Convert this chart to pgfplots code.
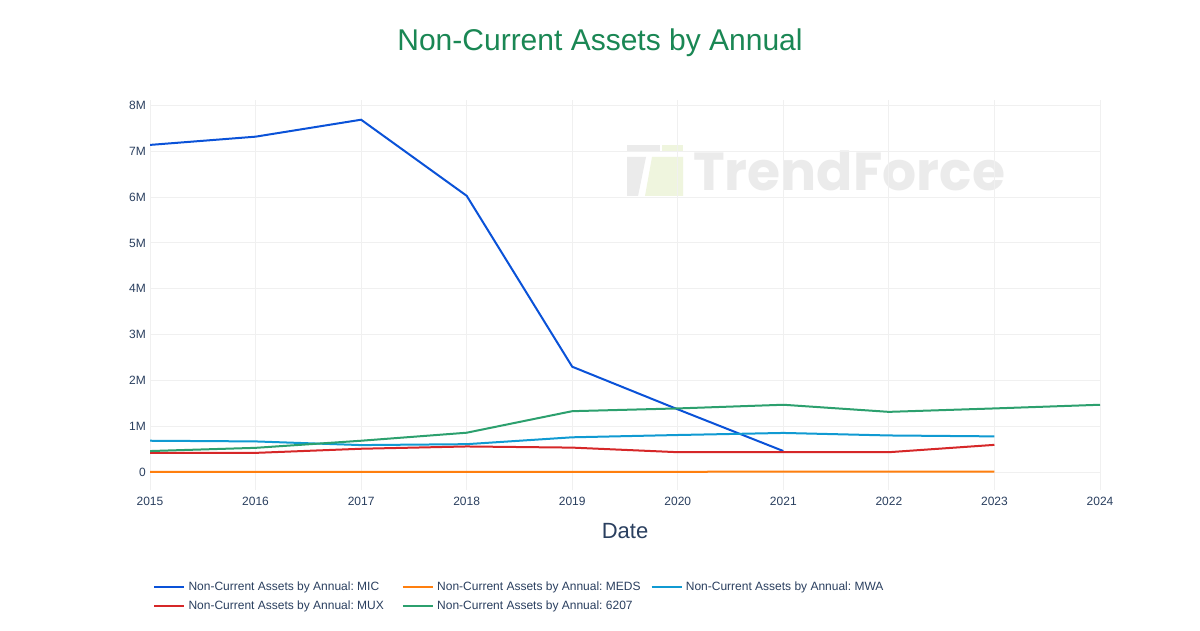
\documentclass[border=0pt]{standalone}
\usepackage{graphicx}
\usepackage{fontspec}
\setmainfont{Liberation Sans}
\usepackage{pgfplots}
\pgfplotsset{compat=1.18}
\frenchspacing
\definecolor{cMIC}{HTML}{0A52D8}
\definecolor{cMEDS}{HTML}{FF7F0E}
\definecolor{cMWA}{HTML}{109AD2}
\definecolor{cMUX}{HTML}{D62728}
\definecolor{cG}{HTML}{2CA06E}
\definecolor{txt}{HTML}{2A3F5F}
\definecolor{ttl}{HTML}{1A8754}
\definecolor{gridc}{HTML}{F0F0F0}
\definecolor{wm}{HTML}{EBEBEB}
\definecolor{wmg}{HTML}{EFF5DE}
\begin{document}
\begin{tikzpicture}
\path[use as bounding box, fill=white] (0,0) rectangle (720pt,378pt);
% watermark
\fill[wm] ({627*0.6pt},{(630-145)*0.6pt}) rectangle ({660*0.6pt},{(630-152)*0.6pt});
\fill[wm] ({627*0.6pt},{(630-157)*0.6pt}) -- ({646*0.6pt},{(630-157)*0.6pt}) -- ({638*0.6pt},{(630-196)*0.6pt}) -- ({627*0.6pt},{(630-196)*0.6pt}) -- cycle;
\fill[wmg] ({662*0.6pt},{(630-145)*0.6pt}) rectangle ({683*0.6pt},{(630-152)*0.6pt});
\fill[wmg] ({652*0.6pt},{(630-157)*0.6pt}) -- ({683*0.6pt},{(630-157)*0.6pt}) -- ({683*0.6pt},{(630-196)*0.6pt}) -- ({645*0.6pt},{(630-196)*0.6pt}) -- cycle;
\node[anchor=west, inner sep=0pt, text=wm] at ({693*0.6pt},{(630-171)*0.6pt}) {\resizebox{187pt}{!}{\fontspec{Poppins}\bfseries TrendForce}};
\node[text=ttl, font=\fontsize{18pt}{20pt}\selectfont] at (360pt,{(630-43)*0.6pt}) {Non-Current Assets by Annual};
\begin{axis}[
  at={(90pt,84pt)}, anchor=south west,
  scale only axis, width=570pt, height=234pt,
  xmin=2015, xmax=2024, ymin=-390000, ymax=8120000,
  axis line style={draw=none}, tick style={draw=none},
  major tick length=0pt,
  grid=major, grid style={draw=gridc, line width=0.6pt},
  xtick={2015,2016,2017,2018,2019,2020,2021,2022,2023,2024},
  xticklabels={2015,2016,2017,2018,2019,2020,2021,2022,2023,2024},
  ytick={0,1000000,2000000,3000000,4000000,5000000,6000000,7000000,8000000},
  yticklabels={0,1M,2M,3M,4M,5M,6M,7M,8M},
  scaled y ticks=false,
  ticklabel style={font=\fontsize{7.2pt}{8pt}\selectfont, text=txt},
  xticklabel style={yshift=-1pt},
  yticklabel style={xshift=1pt},
  xlabel={Date}, xlabel style={font=\fontsize{13.2pt}{15pt}\selectfont, text=txt, yshift=-3.4pt},
  every axis plot/.append style={line width=1.2pt, no markers},
  legend columns=3,
  legend style={at={(0.003,-0.225)}, anchor=north west, draw=none, fill=none,
    font=\fontsize{7.2pt}{8pt}\selectfont, text=txt, inner sep=0pt,
    /tikz/every even column/.append style={column sep=3pt}, row sep=0.8pt},
  legend image code/.code={\draw[#1] (0pt,0pt) -- (18pt,0pt);},
  legend cell align=left,
]
\addplot[cMIC] table {
2015 7140000
2016 7320000
2017 7690000
2018 6030000
2019 2300000
2020 1370000
2021 460000
};
\addlegendentry{\makebox[123pt][l]{Non-Current Assets by Annual: MIC}}
\addplot[cMEDS] table {
2015 5000
2016 5000
2017 6000
2018 7000
2019 8000
2020 8000
2021 9000
2022 10000
2023 12000
};
\addlegendentry{\makebox[123pt][l]{Non-Current Assets by Annual: MEDS}}
\addplot[cMWA] table {
2015 685000
2016 670000
2017 590000
2018 610000
2019 760000
2020 810000
2021 855000
2022 800000
2023 780000
};
\addlegendentry{\makebox[123pt][l]{Non-Current Assets by Annual: MWA}}
\addplot[cMUX] table {
2015 420000
2016 420000
2017 510000
2018 560000
2019 535000
2020 435000
2021 435000
2022 435000
2023 595000
};
\addlegendentry{\makebox[123pt][l]{Non-Current Assets by Annual: MUX}}
\addplot[cG] table {
2015 460000
2016 530000
2017 685000
2018 860000
2019 1330000
2020 1390000
2021 1470000
2022 1315000
2023 1390000
2024 1470000
};
\addlegendentry{\makebox[123pt][l]{Non-Current Assets by Annual: 6207}}
\end{axis}
\end{tikzpicture}
\end{document}
